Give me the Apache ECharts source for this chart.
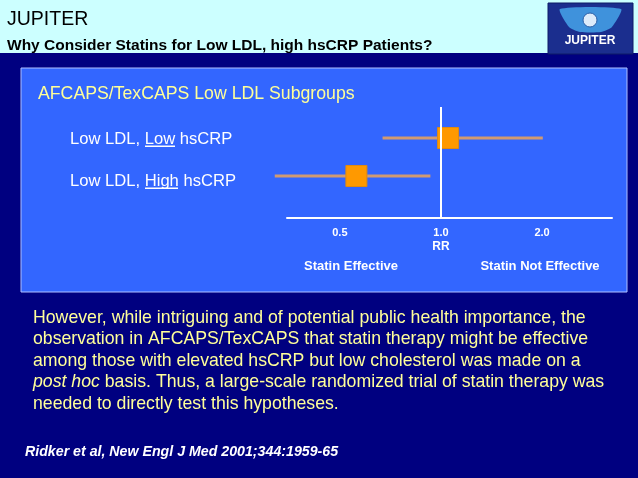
<!DOCTYPE html>
<html>
<head>
<meta charset="utf-8">
<title>JUPITER - AFCAPS/TexCAPS Low LDL Subgroups</title>
<script src="https://cdn.jsdelivr.net/npm/echarts@6/dist/echarts.min.js"></script>
<style>
  html, body { margin: 0; padding: 0; background: #000080; }
  #chart { width: 638px; height: 478px; }
</style>
</head>
<body>
<div id="chart"></div>
<script>
// values (relative risk, log scale)
const subgroups = ['Low LDL, Low hsCRP', 'Low LDL, High hsCRP'];
const relativeRisk = [1.05, 0.56];
const ciLower = [0.67, 0.32];
const ciUpper = [2.01, 0.93];
const tickLabels = ['0.5', '1.0', '2.0'];
const axisRange = [0.348, 3.23];

const SANS = '"Liberation Sans", Arial, sans-serif';
const bodyText = [
    'However, while intriguing and of potential public health importance, the',
    'observation in AFCAPS/TexCAPS that statin therapy might be effective',
    'among those with elevated hsCRP but low cholesterol was made on a',
    '{i|post hoc} basis. Thus, a large-scale randomized trial of statin therapy was',
    'needed to directly test this hypotheses.'
].join('\n');

const chart = echarts.init(document.getElementById('chart'));

const rows = subgroups.map((name, i) => [relativeRisk[i], ciLower[i], ciUpper[i], name]);

const option = {
    backgroundColor: '#000080',
    animation: false,
    grid: [
        // rows of the forest plot
        { left: 287, right: 26, top: 119, height: 76 },
        // axis + reference line
        { left: 287, right: 26, top: 107, height: 111 }
    ],
    xAxis: [
        {
            gridIndex: 0, type: 'log', logBase: 2,
            min: axisRange[0], max: axisRange[1], show: false
        },
        {
            gridIndex: 1, type: 'log', logBase: 2,
            min: axisRange[0], max: axisRange[1],
            axisLine: { lineStyle: { color: '#fff', width: 2 } },
            axisTick: { show: false },
            splitLine: { show: false },
            axisLabel: {
                color: '#fff', fontFamily: SANS, fontSize: 11, fontWeight: 'bold', margin: 9,
                formatter: v => tickLabels.find(t => Math.abs(+t - v) < 1e-6) || ''
            },
            name: 'RR',
            nameLocation: 'middle',
            nameGap: 23,
            nameTextStyle: {
                color: '#fff', fontFamily: SANS, fontSize: 12, fontWeight: 'bold',
                padding: [0, 17, 0, 0]
            }
        }
    ],
    yAxis: [
        {
            gridIndex: 0, type: 'category', inverse: true, data: subgroups,
            axisLine: { show: false }, axisTick: { show: false }, splitLine: { show: false },
            axisLabel: {
                align: 'left', margin: 217,
                formatter: (v, i) => '{r' + i + '|' + v + '}',
                rich: {
                    r0: { color: '#fff', fontFamily: SANS, fontSize: 16.6, padding: [2, 0, 0, 0] },
                    r1: { color: '#fff', fontFamily: SANS, fontSize: 16.6, padding: [10, 0, 0, 0] }
                }
            }
        },
        { gridIndex: 1, type: 'value', show: false, min: 0, max: 1 }
    ],
    series: [
        {
            type: 'custom',
            xAxisIndex: 0, yAxisIndex: 0,
            clip: false,
            data: rows,
            encode: { x: [0, 1, 2], y: 3 },
            renderItem: (params, api) => {
                const mid = api.coord([api.value(0), api.value(3)]);
                const lo = api.coord([api.value(1), api.value(3)]);
                const hi = api.coord([api.value(2), api.value(3)]);
                const s = 21;
                return {
                    type: 'group',
                    children: [
                        {
                            type: 'line',
                            shape: { x1: lo[0], y1: lo[1], x2: hi[0], y2: hi[1] },
                            style: { stroke: '#D09A72', lineWidth: 3 }
                        },
                        {
                            type: 'rect',
                            shape: { x: mid[0] - s / 2, y: mid[1] - s / 2, width: s, height: s },
                            style: { fill: '#FF9900', stroke: '#E08A10', lineWidth: 1 }
                        }
                    ]
                };
            }
        },
        {
            type: 'line',
            xAxisIndex: 1, yAxisIndex: 1,
            data: [],
            markLine: {
                silent: true, symbol: 'none',
                label: { show: false },
                lineStyle: { color: '#fff', width: 2, type: 'solid' },
                data: [{ xAxis: 1 }]
            }
        }
    ],
    graphic: [
        // header band
        { type: 'rect', z: -20, shape: { x: 0, y: 0, width: 638, height: 53 }, style: { fill: '#CCFFFF' } },
        { type: 'text', left: 7, top: 10, style: { text: 'JUPITER', fill: '#000', font: '19.5px ' + SANS } },
        { type: 'text', left: 7, top: 38, style: { text: 'Why Consider Statins for Low LDL, high hsCRP Patients?', fill: '#000', font: 'bold 15.5px ' + SANS } },
        // logo
        { type: 'rect', z: -10, shape: { x: 548, y: 3, width: 85, height: 51 }, style: { fill: '#1B2E8E', stroke: '#0E1A66', lineWidth: 1 } },
        { type: 'polygon', z: -9, shape: { points: [[560, 9], [621, 9], [612, 27], [601, 32], [580, 32], [569, 27]], smooth: 0.2 }, style: { fill: '#3F92DC' } },
        { type: 'circle', z: -8, shape: { cx: 590, cy: 20, r: 7 }, style: { fill: '#DDEBFA', stroke: '#2A5FA8', lineWidth: 1 } },
        { type: 'text', z: -7, x: 590, y: 41, style: { text: 'JUPITER', fill: '#fff', font: 'bold 12px ' + SANS, align: 'center', verticalAlign: 'middle' } },
        // blue panel
        { type: 'rect', z: -20, shape: { x: 21, y: 68, width: 606, height: 224 }, style: { fill: '#3366FF', stroke: '#AFC0FF', lineWidth: 1 } },
        { type: 'text', left: 38, top: 85, style: { text: 'AFCAPS/TexCAPS Low LDL Subgroups', fill: '#FFFF99', font: '17.7px ' + SANS } },
        // underlines of "Low" / "High"
        { type: 'rect', shape: { x: 145, y: 145.5, width: 30, height: 1.5 }, style: { fill: '#fff' } },
        { type: 'rect', shape: { x: 145, y: 187.5, width: 33, height: 1.5 }, style: { fill: '#fff' } },
        { type: 'text', x: 351, y: 266, style: { text: 'Statin Effective', fill: '#fff', font: 'bold 13px ' + SANS, align: 'center', verticalAlign: 'middle' } },
        { type: 'text', x: 540, y: 266, style: { text: 'Statin Not Effective', fill: '#fff', font: 'bold 13px ' + SANS, align: 'center', verticalAlign: 'middle' } },
        // paragraph
        {
            type: 'text', x: 33, y: 307,
            style: {
                text: bodyText, fill: '#FFFF99', font: '17.7px ' + SANS, lineHeight: 21.5,
                verticalAlign: 'top',
                rich: { i: { fill: '#FFFF99', fontFamily: SANS, fontSize: 17.7, fontStyle: 'italic', lineHeight: 21.5 } }
            }
        },
        { type: 'text', x: 25, y: 452, style: { text: 'Ridker et al, New Engl J Med 2001;344:1959-65', fill: '#fff', font: 'italic bold 14.2px ' + SANS, verticalAlign: 'middle' } }
    ]
};

chart.setOption(option);
</script>
</body>
</html>
